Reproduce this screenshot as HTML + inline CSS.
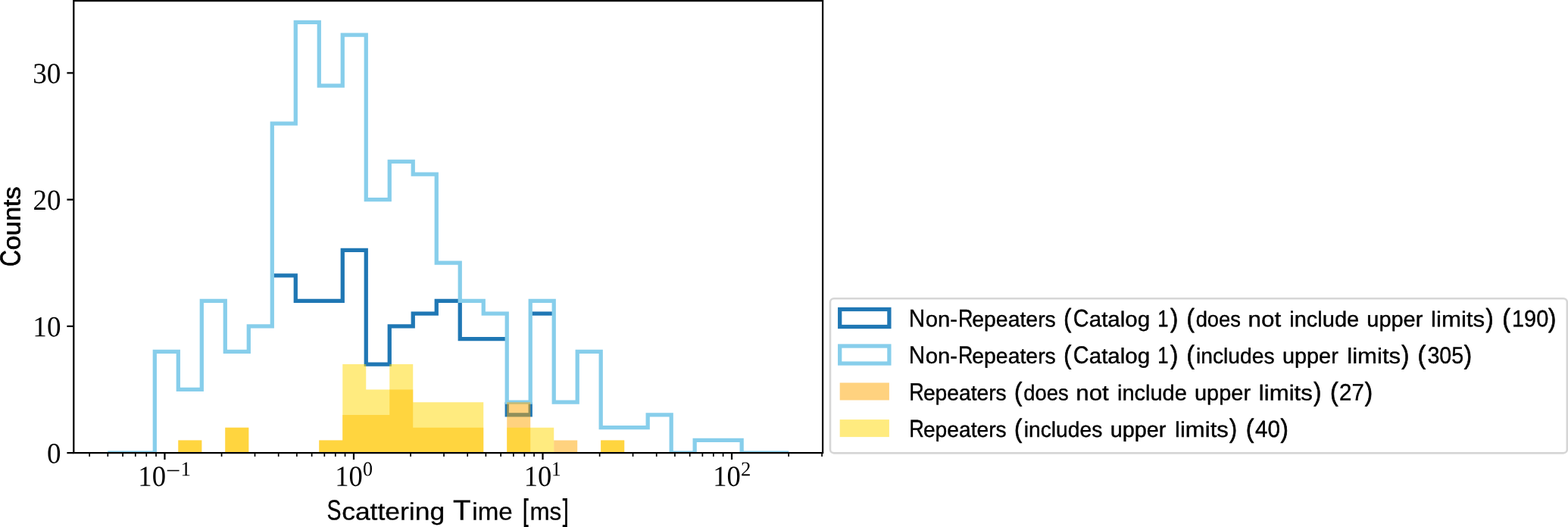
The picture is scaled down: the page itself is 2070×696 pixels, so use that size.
<!DOCTYPE html>
<html lang="en"><head><meta charset="utf-8"><title>Scattering Time histogram</title>
<style>html,body{margin:0;padding:0;background:#fff;}body{width:2070px;height:696px;overflow:hidden;}svg{display:block;}.serif{font-family:"Liberation Serif","DejaVu Serif",serif;}.sans{font-family:"Liberation Sans","DejaVu Sans",sans-serif;}text{fill:#000;font-kerning:none;font-variant-ligatures:none;white-space:pre;text-rendering:geometricPrecision;}.leg{stroke:#000;stroke-width:0.4;stroke-linejoin:round;}.lab{stroke:#000;stroke-width:0.3;stroke-linejoin:round;}.tick{stroke:#000;stroke-width:0;stroke-linejoin:round;}</style></head><body>
<svg width="2070" height="696" viewBox="0 0 2070 696">
<rect x="0" y="0" width="2070" height="696" fill="#fff"/>
<defs><clipPath id="ax"><rect x="97.3" y="1.05" width="988.82" height="597.06"/></clipPath></defs>
<g clip-path="url(#ax)" fill="none" stroke-linejoin="miter" stroke-linecap="butt">
<path d="M359.28 363.93 L390.27 363.93 L390.27 397.39 L421.27 397.39 L452.26 397.39 L452.26 330.48 L483.26 330.48 L483.26 481.02 L514.25 481.02 L514.25 430.84 L545.24 430.84 L545.24 414.11 L576.24 414.11 L576.24 397.39 L607.23 397.39 L607.23 447.57 L638.23 447.57 L669.22 447.57 M669.22 531.2 L669.22 547.93 L700.21 547.93 L700.21 531.2 M700.21 414.11 L731.21 414.11" stroke="#1f77b4" stroke-width="5.27"/>
<path d="M142.32 598.11 L173.32 598.11 L204.31 598.11 L204.31 464.29 L235.31 464.29 L235.31 514.48 L266.3 514.48 L266.3 397.39 L297.29 397.39 L297.29 464.29 L328.29 464.29 L328.29 430.84 L359.28 430.84 L359.28 163.21 L390.27 163.21 L390.27 29.39 L421.27 29.39 L421.27 113.03 L452.26 113.03 L452.26 46.12 L483.26 46.12 L483.26 263.57 L514.25 263.57 L514.25 213.39 L545.24 213.39 L545.24 230.12 L576.24 230.12 L576.24 347.21 L607.23 347.21 L607.23 397.39 L638.23 397.39 L638.23 414.11 L669.22 414.11 L669.22 531.2 L700.21 531.2 L700.21 397.39 L731.21 397.39 L731.21 531.2 L762.2 531.2 L762.2 464.29 L793.2 464.29 L793.2 564.66 L824.19 564.66 L855.18 564.66 L855.18 547.93 L886.18 547.93 L886.18 598.11 L917.17 598.11 L917.17 581.38 L948.16 581.38 L979.16 581.38 L979.16 598.11 L1010.15 598.11 L1041.15 598.11" stroke="#87ceeb" stroke-width="5.27"/>
<path d="M142.32 598.11 L173.32 598.11 L204.31 598.11 L235.31 598.11 L235.31 581.38 L266.3 581.38 L266.3 598.11 L297.29 598.11 L297.29 564.66 L328.29 564.66 L328.29 598.11 L359.28 598.11 L390.27 598.11 L421.27 598.11 L421.27 581.38 L452.26 581.38 L452.26 547.93 L483.26 547.93 L514.25 547.93 L514.25 514.48 L545.24 514.48 L545.24 564.66 L576.24 564.66 L607.23 564.66 L638.23 564.66 L638.23 598.11 L669.22 598.11 L669.22 531.2 L700.21 531.2 L700.21 598.11 L731.21 598.11 L731.21 581.38 L762.2 581.38 L762.2 598.11 L793.2 598.11 L793.2 581.38 L824.19 581.38 L824.19 598.11 L855.18 598.11 L886.18 598.11 L917.17 598.11 L948.16 598.11 L979.16 598.11 L1010.15 598.11 L1041.15 598.11 Z" fill="#ffa500" fill-opacity="0.5" stroke="none"/>
<path d="M142.32 598.11 L173.32 598.11 L204.31 598.11 L235.31 598.11 L235.31 581.38 L266.3 581.38 L266.3 598.11 L297.29 598.11 L297.29 564.66 L328.29 564.66 L328.29 598.11 L359.28 598.11 L390.27 598.11 L421.27 598.11 L421.27 581.38 L452.26 581.38 L452.26 481.02 L483.26 481.02 L483.26 514.48 L514.25 514.48 L514.25 481.02 L545.24 481.02 L545.24 531.2 L576.24 531.2 L607.23 531.2 L638.23 531.2 L638.23 598.11 L669.22 598.11 L669.22 564.66 L700.21 564.66 L731.21 564.66 L731.21 598.11 L762.2 598.11 L793.2 598.11 L793.2 581.38 L824.19 581.38 L824.19 598.11 L855.18 598.11 L886.18 598.11 L917.17 598.11 L948.16 598.11 L979.16 598.11 L1010.15 598.11 L1041.15 598.11 Z" fill="#ffd700" fill-opacity="0.5" stroke="none"/>
</g>
<path d="M217.44 598.11 V607.01 M466.97 598.11 V607.01 M716.5 598.11 V607.01 M966.03 598.11 V607.01" stroke="#000" stroke-width="2.2" fill="none"/>
<path d="M118.14 598.11 V603.01 M142.32 598.11 V603.01 M162.08 598.11 V603.01 M178.79 598.11 V603.01 M193.26 598.11 V603.01 M206.02 598.11 V603.01 M292.56 598.11 V603.01 M336.5 598.11 V603.01 M367.67 598.11 V603.01 M391.85 598.11 V603.01 M411.61 598.11 V603.01 M428.32 598.11 V603.01 M442.79 598.11 V603.01 M455.55 598.11 V603.01 M542.09 598.11 V603.01 M586.03 598.11 V603.01 M617.2 598.11 V603.01 M641.38 598.11 V603.01 M661.14 598.11 V603.01 M677.85 598.11 V603.01 M692.32 598.11 V603.01 M705.08 598.11 V603.01 M791.62 598.11 V603.01 M835.56 598.11 V603.01 M866.73 598.11 V603.01 M890.91 598.11 V603.01 M910.67 598.11 V603.01 M927.38 598.11 V603.01 M941.85 598.11 V603.01 M954.61 598.11 V603.01 M1041.15 598.11 V603.01 M1085.09 598.11 V603.01" stroke="#000" stroke-width="1.65" fill="none"/>
<path d="M97.3 598.11 H88.4 M97.3 430.84 H88.4 M97.3 263.57 H88.4 M97.3 96.3 H88.4" stroke="#000" stroke-width="2.2" fill="none"/>
<rect x="97.3" y="1.05" width="988.82" height="597.06" fill="none" stroke="#000" stroke-width="2.25" stroke-linejoin="miter"/>
<text class="serif tick" transform="translate(63.1 611.56) rotate(0.05)"><tspan x="-1.21" y="0" font-size="38.4" textLength="18.52" lengthAdjust="spacingAndGlyphs">0</tspan></text>
<text class="serif tick" transform="translate(46.4 444.29) rotate(0.05)"><tspan x="-3.06" y="0" font-size="38.4" textLength="37.07" lengthAdjust="spacingAndGlyphs">10</tspan></text>
<text class="serif tick" transform="translate(44.9 277.02) rotate(0.05)"><tspan x="-1.42" y="0" font-size="38.4" textLength="36.93" lengthAdjust="spacingAndGlyphs">20</tspan></text>
<text class="serif tick" transform="translate(44.8 109.75) rotate(0.05)"><tspan x="-1.58" y="0" font-size="38.4" textLength="37.2" lengthAdjust="spacingAndGlyphs">30</tspan></text>
<text class="serif tick" transform="translate(185.39 641.8) rotate(0.05)"><tspan x="-3.02" y="0" font-size="38.4" textLength="36.61" lengthAdjust="spacingAndGlyphs">10</tspan><tspan x="33.7" y="-10.43" font-size="30" textLength="19.27" lengthAdjust="spacingAndGlyphs">−</tspan><tspan x="53.03" y="-13.65" font-size="26.9" textLength="13.49" lengthAdjust="spacingAndGlyphs">1</tspan></text>
<text class="serif tick" transform="translate(445.22 641.8) rotate(0.05)"><tspan x="-3.01" y="0" font-size="38.4" textLength="36.5" lengthAdjust="spacingAndGlyphs">10</tspan><tspan x="33.66" y="-13.63" font-size="26.9" textLength="12.98" lengthAdjust="spacingAndGlyphs">0</tspan></text>
<text class="serif tick" transform="translate(694.75 641.8) rotate(0.05)"><tspan x="-3.01" y="0" font-size="38.4" textLength="36.5" lengthAdjust="spacingAndGlyphs">10</tspan><tspan x="33.28" y="-13.63" font-size="26.9" textLength="12.64" lengthAdjust="spacingAndGlyphs">1</tspan></text>
<text class="serif tick" transform="translate(944.28 641.8) rotate(0.05)"><tspan x="-3.01" y="0" font-size="38.4" textLength="36.5" lengthAdjust="spacingAndGlyphs">10</tspan><tspan x="33.68" y="-13.63" font-size="26.9" textLength="13.35" lengthAdjust="spacingAndGlyphs">2</tspan></text>
<text class="sans lab" transform="translate(432.7 686.5) rotate(0.05)"><tspan x="-1.09" y="0" font-size="37.6" textLength="19" lengthAdjust="spacingAndGlyphs">S</tspan><tspan x="18.44" y="-0.02" font-size="32.2" textLength="136.09" lengthAdjust="spacingAndGlyphs">cattering</tspan> <tspan x="165.23" y="-0.14" font-size="37.6" textLength="23.55" lengthAdjust="spacingAndGlyphs">T</tspan><tspan x="190.58" y="-0.17" font-size="32.2" textLength="53.39" lengthAdjust="spacingAndGlyphs">ime</tspan> <tspan x="257.36" y="0.98" font-size="40.6" textLength="7.55" lengthAdjust="spacingAndGlyphs" stroke-width="0.7">[</tspan><tspan x="266.72" y="-0.23" font-size="32.2" textLength="41.82" lengthAdjust="spacingAndGlyphs">ms</tspan><tspan x="310.08" y="0.93" font-size="40.6" textLength="7.97" lengthAdjust="spacingAndGlyphs" stroke-width="0.7">]</tspan></text>
<text class="sans lab" transform="translate(26.4 350.7) rotate(-89.95)"><tspan x="-1.33" y="0" font-size="37.6" textLength="21.78" lengthAdjust="spacingAndGlyphs" stroke-width="0.7">C</tspan><tspan x="20.56" y="-0.02" font-size="32.2" textLength="83.67" lengthAdjust="spacingAndGlyphs" stroke-width="0.7">ounts</tspan></text>
<rect x="1096" y="394.25" width="972.8" height="204.1" rx="4.8" ry="4.8" fill="#fff" fill-opacity="0.8" stroke="#ccc" stroke-opacity="0.8" stroke-width="2.6"/>
<rect x="1108.7" y="408.5" width="65.2" height="23" fill="none" stroke="#1f77b4" stroke-width="5.27"/>
<rect x="1108.7" y="457" width="65.2" height="23" fill="none" stroke="#87ceeb" stroke-width="5.27"/>
<rect x="1108.7" y="505.5" width="65.2" height="23" fill="#ffa500" fill-opacity="0.5"/>
<rect x="1108.7" y="554.1" width="65.2" height="23" fill="#ffd700" fill-opacity="0.5"/>
<text class="sans leg" transform="translate(1202 431.3) rotate(0.05)"><tspan x="-2.24" y="0" font-size="32.3" textLength="21.46" lengthAdjust="spacingAndGlyphs">N</tspan><tspan x="19.67" y="-0.02" font-size="28.5" textLength="42.44" lengthAdjust="spacingAndGlyphs">on-</tspan><tspan x="62.99" y="-0.05" font-size="32.3" textLength="19.46" lengthAdjust="spacingAndGlyphs">R</tspan><tspan x="81.29" y="-0.07" font-size="28.5" textLength="110.53" lengthAdjust="spacingAndGlyphs">epeaters</tspan> <tspan x="202.33" y="0.62" font-size="34.6" textLength="10.05" lengthAdjust="spacingAndGlyphs" stroke-width="0.7">(</tspan><tspan x="214.74" y="-0.19" font-size="32.3" textLength="20.75" lengthAdjust="spacingAndGlyphs">C</tspan><tspan x="235.75" y="-0.21" font-size="28.5" textLength="80.35" lengthAdjust="spacingAndGlyphs">atalog</tspan> <tspan x="326.24" y="-0.28" font-size="30.8" textLength="14.32" lengthAdjust="spacingAndGlyphs">1</tspan><tspan x="343.12" y="0.5" font-size="34.6" textLength="10.3" lengthAdjust="spacingAndGlyphs" stroke-width="0.7">)</tspan> <tspan x="364.38" y="0.48" font-size="34.6" textLength="10.3" lengthAdjust="spacingAndGlyphs" stroke-width="0.7">(</tspan><tspan x="376.65" y="-0.33" font-size="28.5" textLength="59.34" lengthAdjust="spacingAndGlyphs">does</tspan> <tspan x="445.52" y="-0.39" font-size="28.5" textLength="43.61" lengthAdjust="spacingAndGlyphs">not</tspan> <tspan x="500.26" y="-0.44" font-size="28.5" textLength="91.93" lengthAdjust="spacingAndGlyphs">include</tspan> <tspan x="602.32" y="-0.53" font-size="28.5" textLength="74.06" lengthAdjust="spacingAndGlyphs">upper</tspan> <tspan x="687.1" y="-0.6" font-size="28.5" textLength="71.03" lengthAdjust="spacingAndGlyphs">limits</tspan><tspan x="759.62" y="0.14" font-size="34.6" textLength="10.05" lengthAdjust="spacingAndGlyphs" stroke-width="0.7">)</tspan> <tspan x="781.31" y="0.12" font-size="34.6" textLength="10.68" lengthAdjust="spacingAndGlyphs" stroke-width="0.7">(</tspan><tspan x="794" y="-0.69" font-size="30.8" textLength="48.23" lengthAdjust="spacingAndGlyphs">190</tspan><tspan x="842.02" y="0.07" font-size="34.6" textLength="10.3" lengthAdjust="spacingAndGlyphs" stroke-width="0.7">)</tspan></text>
<text class="sans leg" transform="translate(1202 479.8) rotate(0.05)"><tspan x="-2.24" y="0" font-size="32.3" textLength="21.46" lengthAdjust="spacingAndGlyphs">N</tspan><tspan x="19.67" y="-0.02" font-size="28.5" textLength="42.44" lengthAdjust="spacingAndGlyphs">on-</tspan><tspan x="62.99" y="-0.05" font-size="32.3" textLength="19.46" lengthAdjust="spacingAndGlyphs">R</tspan><tspan x="81.29" y="-0.07" font-size="28.5" textLength="110.53" lengthAdjust="spacingAndGlyphs">epeaters</tspan> <tspan x="202.33" y="0.62" font-size="34.6" textLength="10.05" lengthAdjust="spacingAndGlyphs" stroke-width="0.7">(</tspan><tspan x="214.74" y="-0.19" font-size="32.3" textLength="20.75" lengthAdjust="spacingAndGlyphs">C</tspan><tspan x="235.75" y="-0.21" font-size="28.5" textLength="80.35" lengthAdjust="spacingAndGlyphs">atalog</tspan> <tspan x="326.24" y="-0.28" font-size="30.8" textLength="14.32" lengthAdjust="spacingAndGlyphs">1</tspan><tspan x="343.12" y="0.5" font-size="34.6" textLength="10.3" lengthAdjust="spacingAndGlyphs" stroke-width="0.7">)</tspan> <tspan x="364.38" y="0.48" font-size="34.6" textLength="10.3" lengthAdjust="spacingAndGlyphs" stroke-width="0.7">(</tspan><tspan x="377.01" y="-0.33" font-size="28.5" textLength="103.61" lengthAdjust="spacingAndGlyphs">includes</tspan> <tspan x="491.03" y="-0.43" font-size="28.5" textLength="73.75" lengthAdjust="spacingAndGlyphs">upper</tspan> <tspan x="576.3" y="-0.5" font-size="28.5" textLength="70.82" lengthAdjust="spacingAndGlyphs">limits</tspan><tspan x="648.32" y="0.23" font-size="34.6" textLength="10.05" lengthAdjust="spacingAndGlyphs" stroke-width="0.7">)</tspan> <tspan x="669.51" y="0.22" font-size="34.6" textLength="10.68" lengthAdjust="spacingAndGlyphs" stroke-width="0.7">(</tspan><tspan x="682.41" y="-0.6" font-size="30.8" textLength="47.79" lengthAdjust="spacingAndGlyphs">305</tspan><tspan x="730.72" y="0.16" font-size="34.6" textLength="10.3" lengthAdjust="spacingAndGlyphs" stroke-width="0.7">)</tspan></text>
<text class="sans leg" transform="translate(1202.2 528.4) rotate(0.05)"><tspan x="-2.02" y="0" font-size="32.3" textLength="19.58" lengthAdjust="spacingAndGlyphs">R</tspan><tspan x="16.7" y="-0.01" font-size="28.5" textLength="109.82" lengthAdjust="spacingAndGlyphs">epeaters</tspan> <tspan x="136.88" y="0.68" font-size="34.6" textLength="10.3" lengthAdjust="spacingAndGlyphs" stroke-width="0.7">(</tspan><tspan x="149.15" y="-0.13" font-size="28.5" textLength="59.34" lengthAdjust="spacingAndGlyphs">does</tspan> <tspan x="218.02" y="-0.19" font-size="28.5" textLength="43.61" lengthAdjust="spacingAndGlyphs">not</tspan> <tspan x="272.76" y="-0.24" font-size="28.5" textLength="91.93" lengthAdjust="spacingAndGlyphs">include</tspan> <tspan x="374.82" y="-0.33" font-size="28.5" textLength="74.06" lengthAdjust="spacingAndGlyphs">upper</tspan> <tspan x="459.6" y="-0.4" font-size="28.5" textLength="71.03" lengthAdjust="spacingAndGlyphs">limits</tspan><tspan x="532.12" y="0.34" font-size="34.6" textLength="10.05" lengthAdjust="spacingAndGlyphs" stroke-width="0.7">)</tspan> <tspan x="553.91" y="0.32" font-size="34.6" textLength="10.68" lengthAdjust="spacingAndGlyphs" stroke-width="0.7">(</tspan><tspan x="565.92" y="-0.49" font-size="30.8" textLength="32.76" lengthAdjust="spacingAndGlyphs">27</tspan><tspan x="599.52" y="0.28" font-size="34.6" textLength="10.3" lengthAdjust="spacingAndGlyphs" stroke-width="0.7">)</tspan></text>
<text class="sans leg" transform="translate(1202.2 576.9) rotate(0.05)"><tspan x="-2.02" y="0" font-size="32.3" textLength="19.58" lengthAdjust="spacingAndGlyphs">R</tspan><tspan x="16.7" y="-0.01" font-size="28.5" textLength="109.82" lengthAdjust="spacingAndGlyphs">epeaters</tspan> <tspan x="136.88" y="0.68" font-size="34.6" textLength="10.3" lengthAdjust="spacingAndGlyphs" stroke-width="0.7">(</tspan><tspan x="149.51" y="-0.13" font-size="28.5" textLength="103.61" lengthAdjust="spacingAndGlyphs">includes</tspan> <tspan x="263.53" y="-0.23" font-size="28.5" textLength="73.75" lengthAdjust="spacingAndGlyphs">upper</tspan> <tspan x="348.8" y="-0.3" font-size="28.5" textLength="70.82" lengthAdjust="spacingAndGlyphs">limits</tspan><tspan x="420.82" y="0.43" font-size="34.6" textLength="10.05" lengthAdjust="spacingAndGlyphs" stroke-width="0.7">)</tspan> <tspan x="442.61" y="0.41" font-size="34.6" textLength="10.68" lengthAdjust="spacingAndGlyphs" stroke-width="0.7">(</tspan><tspan x="454.72" y="-0.4" font-size="30.8" textLength="33.04" lengthAdjust="spacingAndGlyphs">40</tspan><tspan x="488.22" y="0.37" font-size="34.6" textLength="10.3" lengthAdjust="spacingAndGlyphs" stroke-width="0.7">)</tspan></text>
</svg></body></html>
